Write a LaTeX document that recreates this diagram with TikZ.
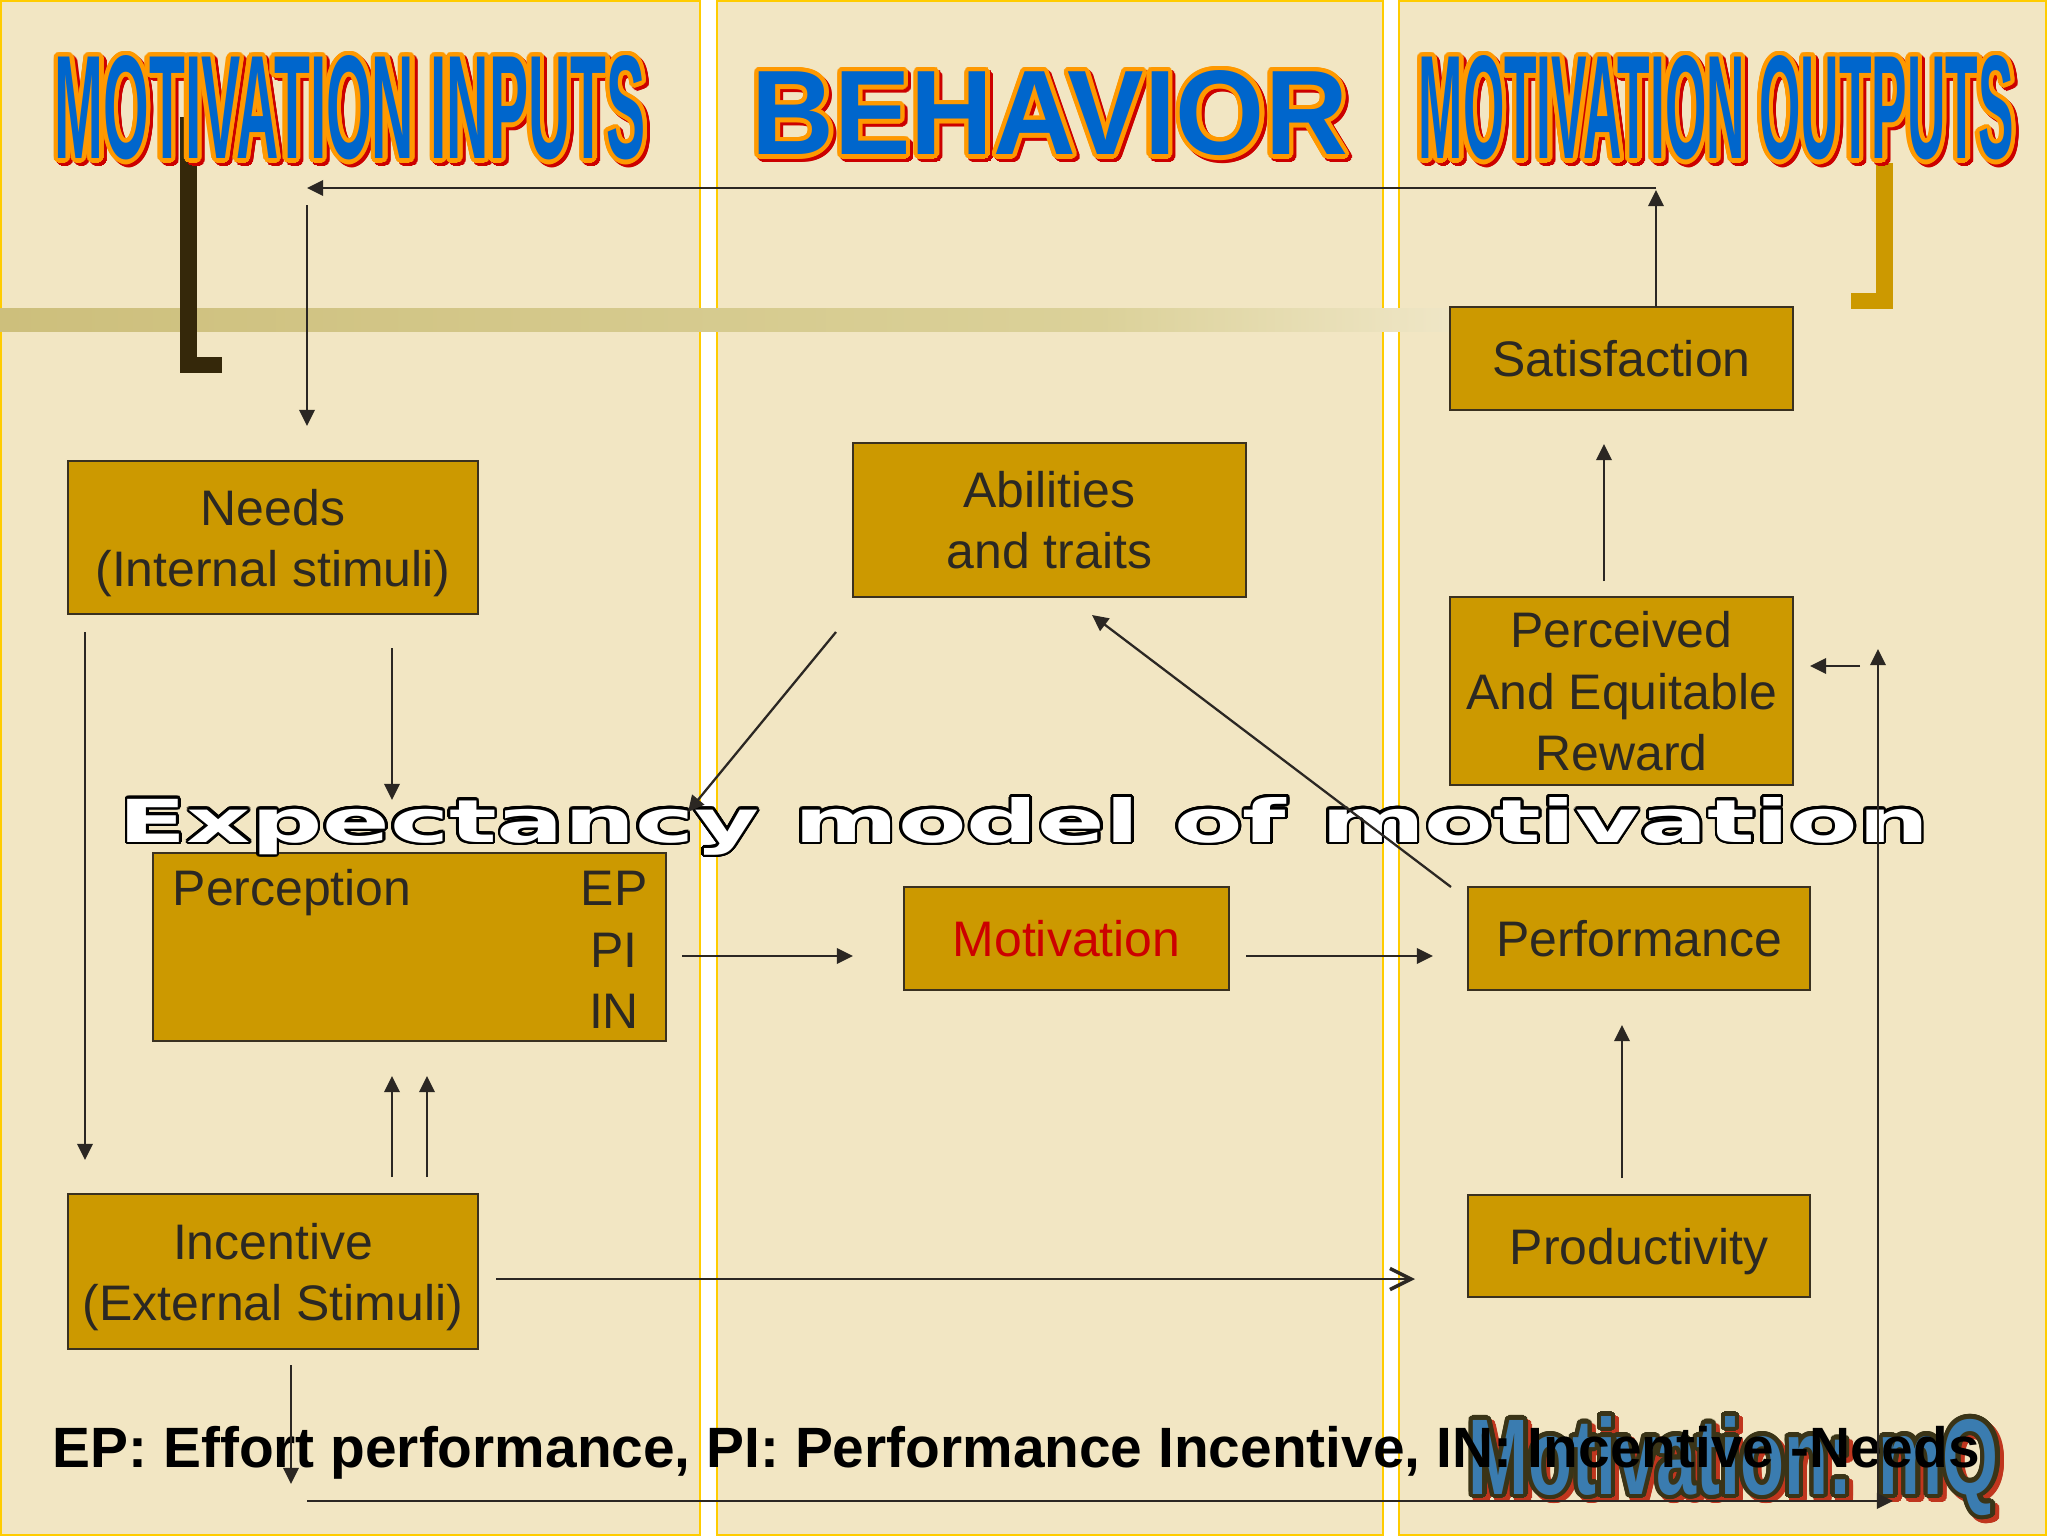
\documentclass[tikz,border=0pt]{standalone}
\usepackage{fontspec}
\usepackage{graphicx}
\usepackage{contour}
\setmainfont{Liberation Sans}
\newfontfamily\dejavu{DejaVu Sans}
\usetikzlibrary{arrows.meta,calc}
\definecolor{panelfill}{HTML}{F2E6C3}
\definecolor{panelline}{HTML}{FFCC00}
\definecolor{bandL}{HTML}{CDBF7C}
\definecolor{bandM}{HTML}{DBD199}
\definecolor{bandR}{HTML}{EFE6C6}
\definecolor{brdark}{HTML}{35280A}
\definecolor{gold}{HTML}{CC9900}
\definecolor{boxline}{HTML}{3A3120}
\definecolor{boxtext}{HTML}{2B2823}
\definecolor{arrowc}{HTML}{2B2723}
\definecolor{titleblue}{HTML}{0066CC}
\definecolor{titleorange}{HTML}{FF9900}
\definecolor{shadowred}{HTML}{CC0000}
\definecolor{motred}{HTML}{CC0000}
\definecolor{wmblue}{HTML}{3A7CB0}
\definecolor{wmline}{HTML}{3A3417}
\definecolor{wmred}{HTML}{C0361E}
\newlength\pxu
\setlength\pxu{0.01cm}
\contournumber{24}
\tikzset{
  panel/.style={fill=panelfill, draw=panelline, line width=0.5pt},
  gbox/.style={draw=boxline, fill=gold, line width=0.7pt, inner sep=0pt,
    text=boxtext, font=\fontsize{14.2}{17.4}\selectfont, align=center, text depth=0pt},
  btext/.style={inner sep=0pt, text=boxtext, font=\fontsize{14.2}{17.4}\selectfont},
  arr/.style={draw=arrowc, line width=0.65pt, -{Triangle[length=4.6pt,width=4.4pt]}},
  openarr/.style={draw=arrowc, line width=0.65pt, -{Straight Barb[length=6pt,width=6pt,line width=1pt]}},
  plain/.style={inner sep=0pt},
}
\begin{document}
\begin{tikzpicture}[x=0.01cm,y=-0.01cm]
\useasboundingbox (0,0) rectangle (2048,1536);
\fill[white] (0,0) rectangle (2048,1536);
% panels
\path[panel] (1,1) rectangle (700,1535);
\path[panel] (717,1) rectangle (1383,1535);
\path[panel] (1399,1) rectangle (2046,1535);
% band
\shade[left color=bandL, right color=bandM] (0,308) rectangle (1100,331);
\shade[left color=bandM, right color=bandR] (1099,308) rectangle (1450,331);
% brackets
\fill[brdark] (180,117) rectangle (197,373);
\fill[brdark] (180,357) rectangle (222,373);
\fill[gold] (1876,163) rectangle (1893,309);
\fill[gold] (1851,293) rectangle (1893,309);
% titles
\contourlength{1.25pt}
\node[plain, anchor=north west] (t1s) at (57,58) {\color{shadowred}\contour{shadowred}{\resizebox{591\pxu}{103\pxu}{\bfseries MOTIVATION INPUTS}}};
\node[plain, anchor=north west] (t1) at (54,55) {\color{titleblue}\contour{titleorange}{\resizebox{591\pxu}{103\pxu}{\bfseries MOTIVATION INPUTS}}};
\node[plain, anchor=north west] (t2s) at (754,73) {\color{shadowred}\contour{shadowred}{\resizebox{596\pxu}{84\pxu}{\bfseries BEHAVIOR}}};
\node[plain, anchor=north west] (t2) at (751,70) {\color{titleblue}\contour{titleorange}{\resizebox{596\pxu}{84\pxu}{\bfseries BEHAVIOR}}};
\node[plain, anchor=north west] (t3s) at (1421,58) {\color{shadowred}\contour{shadowred}{\resizebox{595\pxu}{103\pxu}{\bfseries MOTIVATION OUTPUTS}}};
\node[plain, anchor=north west] (t3) at (1418,55) {\color{titleblue}\contour{titleorange}{\resizebox{595\pxu}{103\pxu}{\bfseries MOTIVATION OUTPUTS}}};
% watermark
\node[plain, anchor=base west] (wms) at (1472,1498) {\color{wmred}\contour{wmred}{\resizebox{530\pxu}{78\pxu}{\bfseries Motivation: mQ}}};
\node[plain, anchor=base west] (wm) at (1468,1494) {\color{wmblue}\contour{wmline}{\resizebox{530\pxu}{78\pxu}{\bfseries Motivation: mQ}}};
% boxes
\node[gbox, minimum width=4.10cm, minimum height=1.53cm] (needs) at (273,537.5) {Needs\\(Internal stimuli)};
\node[gbox, minimum width=3.93cm, minimum height=1.54cm] (abil) at (1049.5,520) {Abilities\\and traits};
\node[gbox, minimum width=3.43cm, minimum height=1.03cm] (sat) at (1621.5,358.5) {Satisfaction};
\node[gbox, minimum width=3.43cm, minimum height=1.88cm] (perc) at (1621.5,691) {Perceived\\And Equitable\\Reward};
\node[gbox, minimum width=5.13cm, minimum height=1.88cm] (percep) at (409.5,947) {};
\node[gbox, minimum width=3.25cm, minimum height=1.03cm, text=motred] (motiv) at (1066.5,938.5) {Motivation};
\node[gbox, minimum width=3.42cm, minimum height=1.03cm] (perf) at (1639,938.5) {Performance};
\node[gbox, minimum width=4.10cm, minimum height=1.55cm] (incent) at (273,1271.5) {Incentive\\(External Stimuli)};
\node[gbox, minimum width=3.42cm, minimum height=1.02cm] (prod) at (1639,1246) {Productivity};
% perception texts
\node[btext, anchor=base west] (perT) at (172,905) {Perception};
\node[btext, anchor=base] (epT) at (614,905) {EP};
\node[btext, anchor=base] (piT) at (614,967) {PI};
\node[btext, anchor=base] (inT) at (614,1028) {IN};
% big caption
\node[plain, anchor=base west] (expect) at (118,842) {\contourlength{0.75pt}\color{white}\contour{black}{\resizebox{1810\pxu}{45\pxu}{\dejavu\bfseries Expectancy model of motivation}}};
% legend text
\node[plain, anchor=base west] (legend) at (52,1467) {\resizebox{1927\pxu}{!}{\bfseries EP: Effort performance, PI: Performance Incentive, IN: Incentive -Needs}};
% connector coordinates
\coordinate (a1s) at (1656,307);
\coordinate (a1e) at (1656,190);
\coordinate (a2s) at (1656,188);
\coordinate (a2e) at (307,188);
\coordinate (a3s) at (307,205);
\coordinate (a3e) at (307,426);
\coordinate (a4s) at (392,648);
\coordinate (a4e) at (392,800);
\coordinate (a5s) at (85,632);
\coordinate (a5e) at (85,1160);
\coordinate (a6s) at (836,632);
\coordinate (a6e) at (688,812);
\coordinate (a7s) at (682,956);
\coordinate (a7e) at (853,956);
\coordinate (a8s) at (1246,956);
\coordinate (a8e) at (1433,956);
\coordinate (a9s) at (1451,887);
\coordinate (a9e) at (1092,615);
\coordinate (a10s) at (1622,1178);
\coordinate (a10e) at (1622,1025);
\coordinate (a11s) at (392,1177);
\coordinate (a11e) at (392,1076);
\coordinate (a12s) at (427,1177);
\coordinate (a12e) at (427,1076);
\coordinate (a13s) at (496,1279);
\coordinate (a13e) at (1415,1279);
\coordinate (a14s) at (291,1365);
\coordinate (a14e) at (291,1484);
\coordinate (a15s) at (307,1501);
\coordinate (a15e) at (1893,1501);
\coordinate (a16s) at (1878,1501);
\coordinate (a16e) at (1878,649);
\coordinate (a17s) at (1860,666);
\coordinate (a17e) at (1810,666);
\coordinate (a18s) at (1604,581);
\coordinate (a18e) at (1604,444);
% connectors
\draw[arr] (a1s) -- (a1e);
\draw[arr] (a2s) -- (a2e);
\draw[arr] (a3s) -- (a3e);
\draw[arr] (a4s) -- (a4e);
\draw[arr] (a5s) -- (a5e);
\draw[arr] (a6s) -- (a6e);
\draw[arr] (a7s) -- (a7e);
\draw[arr] (a8s) -- (a8e);
\draw[arr] (a9s) -- (a9e);
\draw[arr] (a10s) -- (a10e);
\draw[arr] (a11s) -- (a11e);
\draw[arr] (a12s) -- (a12e);
\draw[openarr] (a13s) -- (a13e);
\draw[arr] (a14s) -- (a14e);
\draw[arr] (a15s) -- (a15e);
\draw[arr] (a16s) -- (a16e);
\draw[arr] (a17s) -- (a17e);
\draw[arr] (a18s) -- (a18e);
\end{tikzpicture}
\end{document}
